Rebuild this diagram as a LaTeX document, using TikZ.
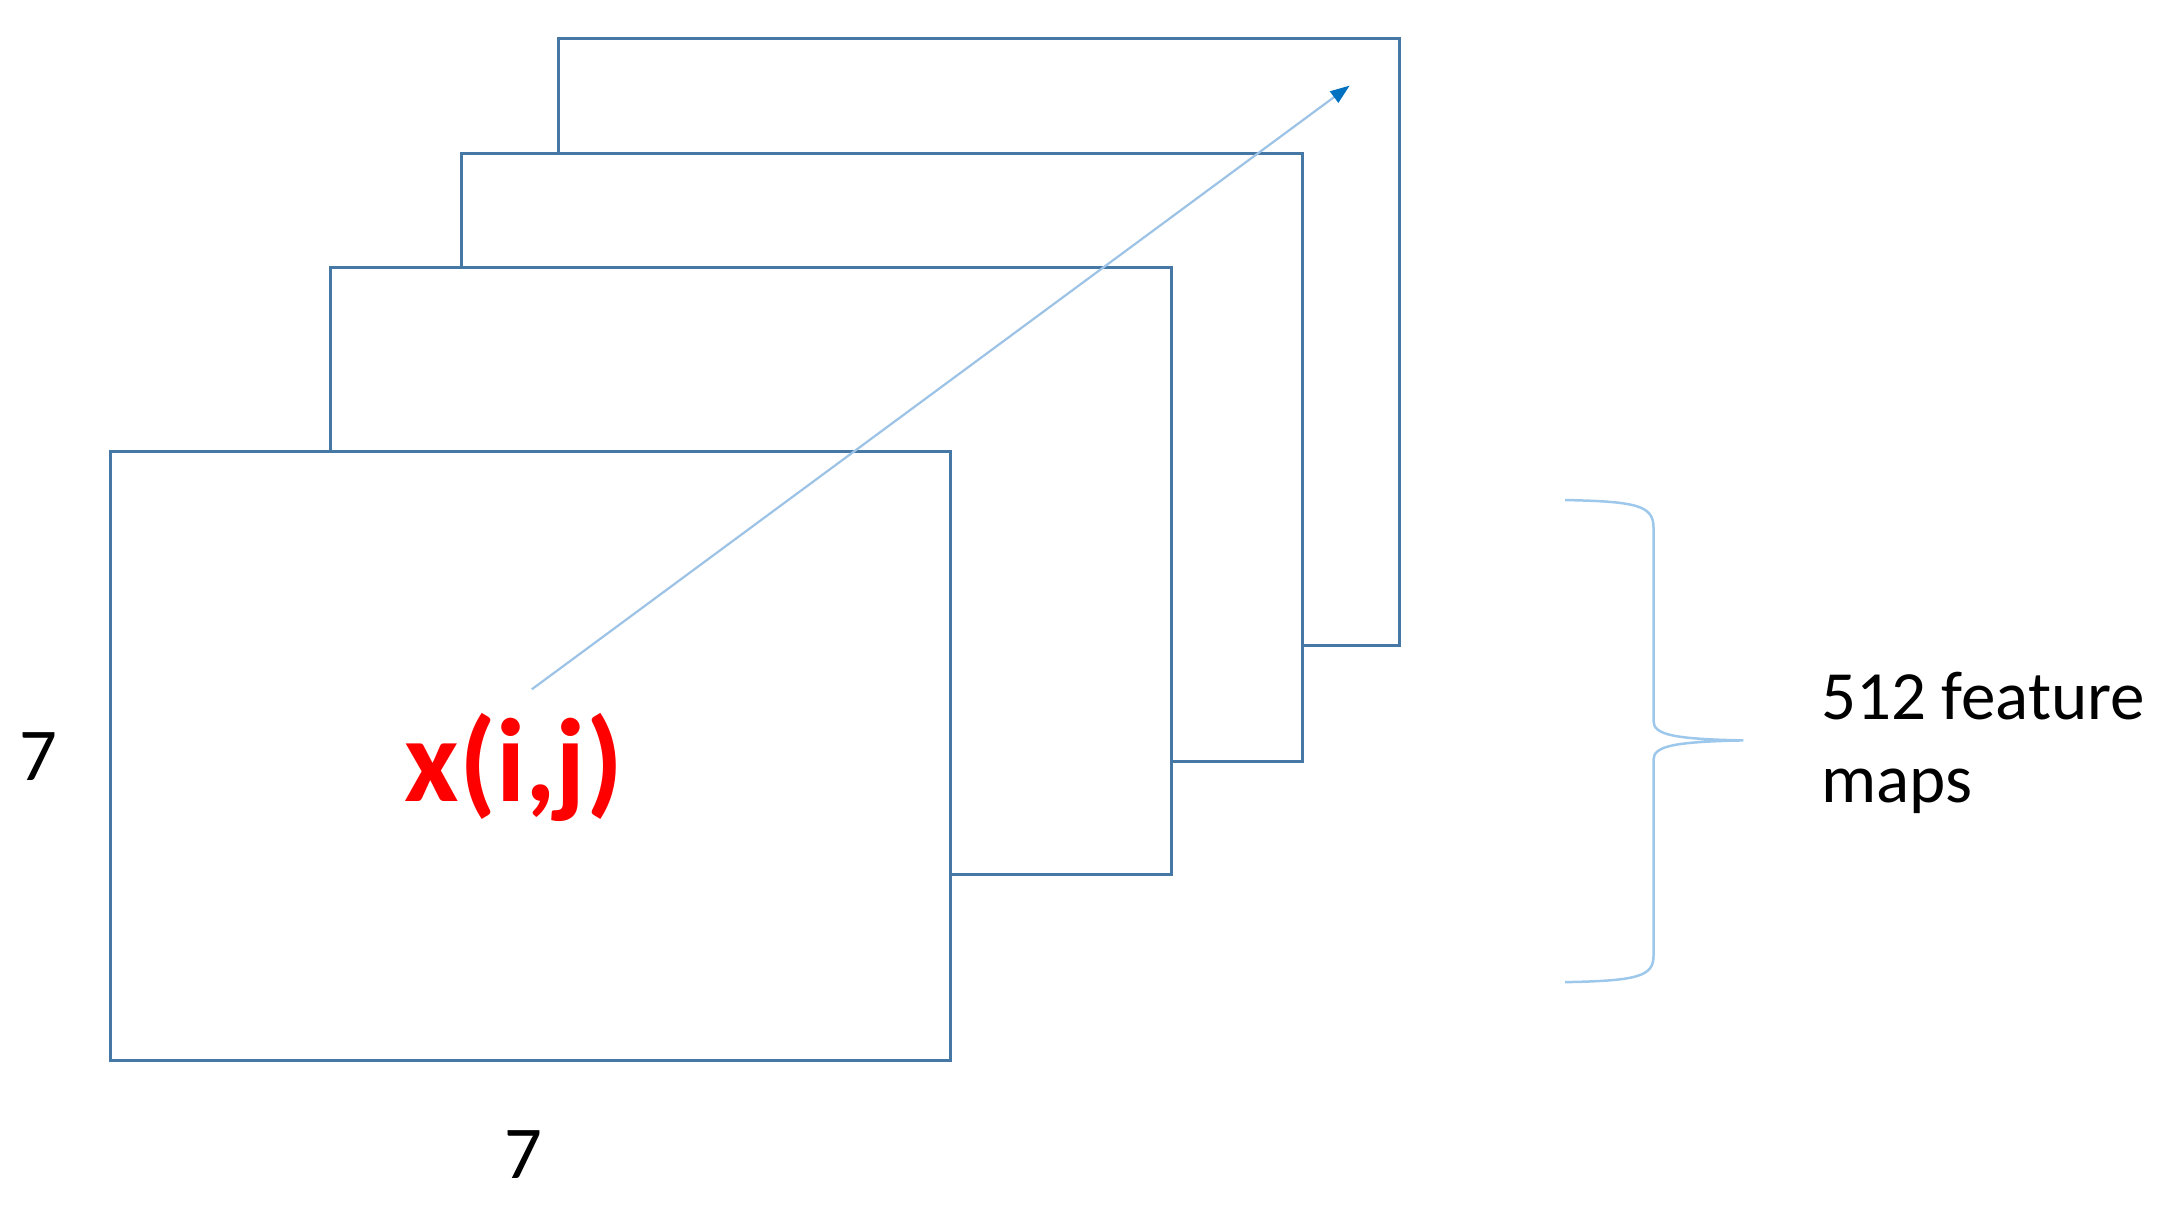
\documentclass[tikz,border=0pt]{standalone}
\usepackage{fontspec}
\setmainfont{Carlito}
\usetikzlibrary{arrows.meta}
\definecolor{mapedge}{RGB}{70,120,165}
\definecolor{lightarrow}{RGB}{157,195,230}
\definecolor{darkarrow}{RGB}{0,112,192}
\definecolor{bracecol}{RGB}{157,200,235}
\definecolor{xred}{RGB}{255,0,0}
\tikzset{
  fmap/.style={draw=mapedge, fill=white, line width=1.1pt},
  featarrow/.style={draw=lightarrow, line width=0.8pt, -{Triangle[length=7pt,width=5pt,color=darkarrow]}},
  bracepath/.style={draw=bracecol, line width=0.9pt},
  dimlabel/.style={inner sep=0pt, font=\fontsize{27}{32}\selectfont},
  cellabel/.style={inner sep=0pt, text=xred, font=\fontsize{43}{50}\selectfont\bfseries},
  countlabel/.style={inner sep=0pt, align=left, font=\fontsize{25}{30}\selectfont}
}
\begin{document}
\begin{tikzpicture}[x=0.5pt,y=-0.5pt]
\useasboundingbox (0,0) rectangle (1568,876);
% feature maps, back to front
\path[fmap] (404,28) rectangle (1013,467);
\path[fmap] (334,111) rectangle (943,551);
\path[fmap] (239,194) rectangle (848,633);
\path[fmap] (80,327) rectangle (688,768);
% arrow through the maps
\coordinate (arrS) at (385,499);
\coordinate (arrE) at (977,62);
\draw[featarrow] (arrS) -- (arrE);
% labels
\node[cellabel, anchor=base] (xij) at (372,580) {x(i,j)};
\node[dimlabel] (rows) at (28,548) {7};
\node[dimlabel] (cols) at (379,836) {7};
% brace
\draw[bracepath] (1133,362) .. controls (1185,363) and (1197,366) .. (1197,382)
  -- (1197,522) .. controls (1197,532) and (1212,535) .. (1262,536)
  .. controls (1212,537) and (1197,540) .. (1197,550)
  -- (1197,692) .. controls (1197,707) and (1185,710) .. (1133,711);
\node[countlabel, anchor=base west] (count) at (1318,581) {512 feature\\maps};
\end{tikzpicture}
\end{document}
